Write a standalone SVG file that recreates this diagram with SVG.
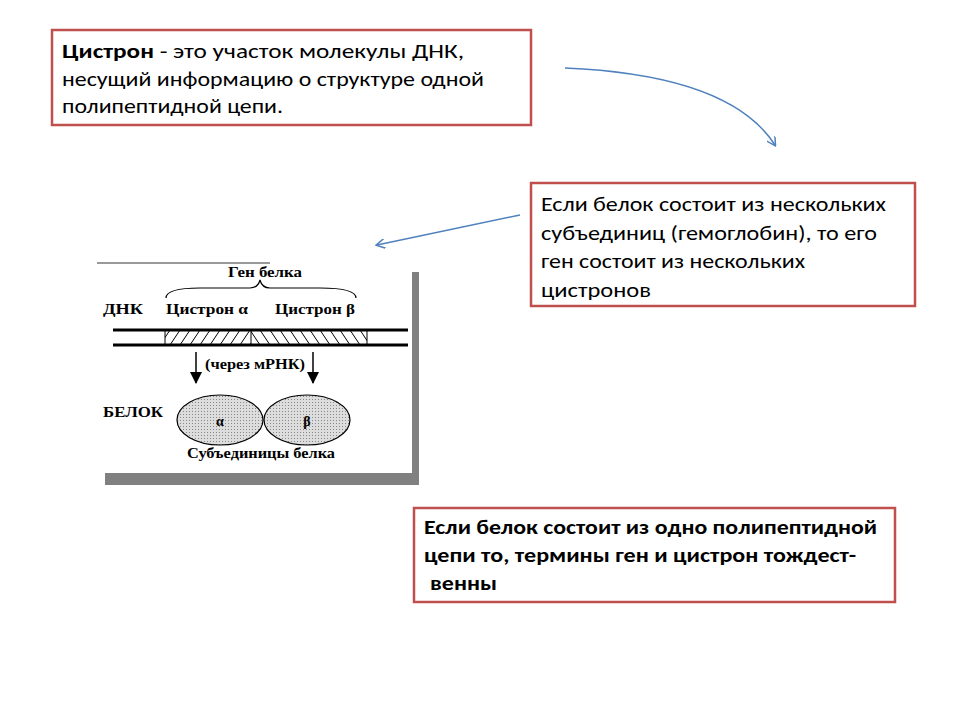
<svg xmlns="http://www.w3.org/2000/svg" width="960" height="720" viewBox="0 0 960 720">
<style>
.box{fill:#fff;stroke:#c0504d;stroke-width:2.5}
.t{font-family:Calibri,"Liberation Sans",sans-serif;font-size:20px;fill:#000}
.s{font-family:"Liberation Serif",serif;font-size:14px;font-weight:bold;fill:#000}
.ln{stroke:#000;stroke-width:3}
</style>
<defs>
<marker id="ab" markerWidth="10" markerHeight="10" refX="8" refY="5" orient="auto" markerUnits="userSpaceOnUse"><path d="M0,0 L9,5 L0,10" fill="none" stroke="#4f81bd" stroke-width="1.5"/></marker>
<marker id="ak" markerWidth="12" markerHeight="12" refX="6" refY="11" orient="0" markerUnits="userSpaceOnUse"><path d="M0,0 L12,0 L6,12 Z" fill="#000"/></marker>
<pattern id="h1" width="10" height="15" patternUnits="userSpaceOnUse"><path d="M0,15 L10,0" stroke="#000" stroke-width="1"/></pattern>
<pattern id="h2" width="10" height="15" patternUnits="userSpaceOnUse"><path d="M0,0 L10,15" stroke="#000" stroke-width="1"/></pattern>
<pattern id="dots" width="3" height="3" patternUnits="userSpaceOnUse"><rect width="3" height="3" fill="#ddd"/><rect width="1" height="1" fill="#888"/></pattern>
</defs>
<rect width="960" height="720" fill="#fff"/>
<g id="box1"><rect class="box" x="52" y="30" width="479" height="95"/>
<text class="t" x="62" y="58" textLength="402" lengthAdjust="spacingAndGlyphs"><tspan font-weight="bold">Цистрон</tspan>  -  это участок молекулы ДНК,</text>
<text class="t" x="62" y="86" textLength="422" lengthAdjust="spacingAndGlyphs">несущий информацию о структуре одной</text>
<text class="t" x="62" y="113" textLength="221" lengthAdjust="spacingAndGlyphs">полипептидной цепи.</text></g>
<g id="box2"><rect class="box" x="531" y="183" width="384" height="123"/>
<text class="t" x="541" y="211" textLength="345" lengthAdjust="spacingAndGlyphs">Если белок состоит из нескольких</text>
<text class="t" x="541" y="240" textLength="336" lengthAdjust="spacingAndGlyphs">субъединиц (гемоглобин), то его</text>
<text class="t" x="541" y="268" textLength="264" lengthAdjust="spacingAndGlyphs">ген состоит из нескольких</text>
<text class="t" x="541" y="297" textLength="110" lengthAdjust="spacingAndGlyphs">цистронов</text></g>
<g id="box3"><rect class="box" x="414" y="508" width="481" height="94"/>
<text class="t" x="424" y="534" font-weight="bold" textLength="453" lengthAdjust="spacingAndGlyphs">Если белок состоит из одно полипептидной</text>
<text class="t" x="424" y="562" font-weight="bold" textLength="432" lengthAdjust="spacingAndGlyphs">цепи то, термины  ген и цистрон тождест-</text>
<text class="t" x="430" y="590" font-weight="bold" textLength="67" lengthAdjust="spacingAndGlyphs">венны</text></g>
<g id="figure">
<line x1="97" y1="263" x2="270" y2="263" stroke="#999" stroke-width="2"/>
<rect x="412" y="272" width="7" height="213" fill="#808080"/>
<rect x="105" y="473" width="314" height="12" fill="#808080"/>
<text class="s" x="228" y="277" textLength="74" lengthAdjust="spacingAndGlyphs">Ген  белка</text>
<path d="M166,298 Q166,288 200,288 L250,288 Q258,288 260,280 Q262,288 270,288 L320,288 Q356,288 356,298" fill="none" stroke="#000" stroke-width="1.2"/>
<text class="s" x="103" y="314" textLength="40" lengthAdjust="spacingAndGlyphs">ДНК</text>
<text class="s" x="166" y="314" textLength="82" lengthAdjust="spacingAndGlyphs">Цистрон  α</text>
<text class="s" x="275" y="314" textLength="80" lengthAdjust="spacingAndGlyphs">Цистрон  β</text>
<rect x="165" y="330" width="86" height="15" fill="url(#h1)"/>
<rect x="251" y="330" width="116" height="15" fill="url(#h2)"/>
<line x1="165" y1="330" x2="165" y2="345" stroke="#000"/>
<line x1="251" y1="330" x2="251" y2="345" stroke="#000"/>
<line x1="367" y1="330" x2="367" y2="345" stroke="#000"/>
<line class="ln" x1="113" y1="330" x2="408" y2="330"/>
<line class="ln" x1="113" y1="345" x2="408" y2="345"/>
<line x1="196" y1="352" x2="196" y2="383" stroke="#000" stroke-width="1.5" marker-end="url(#ak)"/>
<line x1="313" y1="352" x2="313" y2="383" stroke="#000" stroke-width="1.5" marker-end="url(#ak)"/>
<text class="s" x="205" y="369" textLength="100" lengthAdjust="spacingAndGlyphs">(через  мРНК)</text>
<text class="s" x="103" y="417" textLength="60" lengthAdjust="spacingAndGlyphs">БЕЛОК</text>
<ellipse cx="220" cy="420" rx="43" ry="25" fill="url(#dots)" stroke="#000" stroke-width="1.2"/>
<ellipse cx="307" cy="420" rx="43" ry="25" fill="url(#dots)" stroke="#000" stroke-width="1.2"/>
<text class="s" x="220" y="426" text-anchor="middle" font-size="18" font-weight="normal">α</text>
<text class="s" x="307" y="426" text-anchor="middle" font-size="18" font-weight="normal">β</text>
<text class="s" x="187" y="458" textLength="148" lengthAdjust="spacingAndGlyphs">Субъединицы белка</text>
</g>
<g id="connectors" fill="none" stroke="#4f81bd" stroke-width="1.5">
<path d="M565,68 Q730,75 775,145" marker-end="url(#ab)"/>
<line x1="520" y1="215" x2="377" y2="245" marker-end="url(#ab)"/>
</g>
</svg>
